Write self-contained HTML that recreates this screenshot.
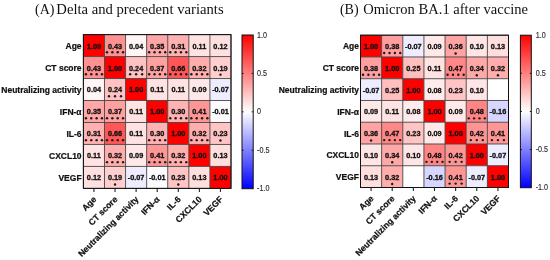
<!DOCTYPE html>
<html><head><meta charset="utf-8"><style>
html,body{margin:0;padding:0;background:#fff;width:550px;height:260px;overflow:hidden;}
svg{display:block;font-family:"Liberation Sans",sans-serif;filter:blur(0.35px);}
</style></head><body>
<svg width="550" height="260" viewBox="0 0 550 260">
<defs><linearGradient id="cb" x1="0" y1="0" x2="0" y2="1"><stop offset="0" stop-color="#ff0000"/><stop offset="0.5" stop-color="#ffffff"/><stop offset="1" stop-color="#0000ff"/></linearGradient></defs>
<rect width="550" height="260" fill="#fff"/>
<text x="35.10" y="13.5" font-family="Liberation Serif" font-size="14" fill="#111">(A)</text>
<text x="56.30" y="13.5" font-family="Liberation Serif" font-size="14.4" fill="#111" textLength="167.3" lengthAdjust="spacingAndGlyphs">Delta and precedent variants</text>
<rect x="83.40" y="34.60" width="21.09" height="21.97" fill="rgb(255,0,0)"/>
<rect x="104.49" y="34.60" width="21.09" height="21.97" fill="rgb(255,145,145)"/>
<rect x="125.57" y="34.60" width="21.09" height="21.97" fill="rgb(255,245,245)"/>
<rect x="146.66" y="34.60" width="21.09" height="21.97" fill="rgb(255,166,166)"/>
<rect x="167.74" y="34.60" width="21.09" height="21.97" fill="rgb(255,176,176)"/>
<rect x="188.83" y="34.60" width="21.09" height="21.97" fill="rgb(255,227,227)"/>
<rect x="209.91" y="34.60" width="21.09" height="21.97" fill="rgb(255,224,224)"/>
<rect x="83.40" y="56.57" width="21.09" height="21.97" fill="rgb(255,145,145)"/>
<rect x="104.49" y="56.57" width="21.09" height="21.97" fill="rgb(255,0,0)"/>
<rect x="125.57" y="56.57" width="21.09" height="21.97" fill="rgb(255,194,194)"/>
<rect x="146.66" y="56.57" width="21.09" height="21.97" fill="rgb(255,161,161)"/>
<rect x="167.74" y="56.57" width="21.09" height="21.97" fill="rgb(255,87,87)"/>
<rect x="188.83" y="56.57" width="21.09" height="21.97" fill="rgb(255,173,173)"/>
<rect x="209.91" y="56.57" width="21.09" height="21.97" fill="rgb(255,207,207)"/>
<rect x="83.40" y="78.54" width="21.09" height="21.97" fill="rgb(255,245,245)"/>
<rect x="104.49" y="78.54" width="21.09" height="21.97" fill="rgb(255,194,194)"/>
<rect x="125.57" y="78.54" width="21.09" height="21.97" fill="rgb(255,0,0)"/>
<rect x="146.66" y="78.54" width="21.09" height="21.97" fill="rgb(255,227,227)"/>
<rect x="167.74" y="78.54" width="21.09" height="21.97" fill="rgb(255,227,227)"/>
<rect x="188.83" y="78.54" width="21.09" height="21.97" fill="rgb(255,232,232)"/>
<rect x="209.91" y="78.54" width="21.09" height="21.97" fill="rgb(237,237,255)"/>
<rect x="83.40" y="100.51" width="21.09" height="21.97" fill="rgb(255,166,166)"/>
<rect x="104.49" y="100.51" width="21.09" height="21.97" fill="rgb(255,161,161)"/>
<rect x="125.57" y="100.51" width="21.09" height="21.97" fill="rgb(255,227,227)"/>
<rect x="146.66" y="100.51" width="21.09" height="21.97" fill="rgb(255,0,0)"/>
<rect x="167.74" y="100.51" width="21.09" height="21.97" fill="rgb(255,178,178)"/>
<rect x="188.83" y="100.51" width="21.09" height="21.97" fill="rgb(255,150,150)"/>
<rect x="209.91" y="100.51" width="21.09" height="21.97" fill="rgb(252,252,255)"/>
<rect x="83.40" y="122.49" width="21.09" height="21.97" fill="rgb(255,176,176)"/>
<rect x="104.49" y="122.49" width="21.09" height="21.97" fill="rgb(255,87,87)"/>
<rect x="125.57" y="122.49" width="21.09" height="21.97" fill="rgb(255,227,227)"/>
<rect x="146.66" y="122.49" width="21.09" height="21.97" fill="rgb(255,178,178)"/>
<rect x="167.74" y="122.49" width="21.09" height="21.97" fill="rgb(255,0,0)"/>
<rect x="188.83" y="122.49" width="21.09" height="21.97" fill="rgb(255,173,173)"/>
<rect x="209.91" y="122.49" width="21.09" height="21.97" fill="rgb(255,196,196)"/>
<rect x="83.40" y="144.46" width="21.09" height="21.97" fill="rgb(255,227,227)"/>
<rect x="104.49" y="144.46" width="21.09" height="21.97" fill="rgb(255,173,173)"/>
<rect x="125.57" y="144.46" width="21.09" height="21.97" fill="rgb(255,232,232)"/>
<rect x="146.66" y="144.46" width="21.09" height="21.97" fill="rgb(255,150,150)"/>
<rect x="167.74" y="144.46" width="21.09" height="21.97" fill="rgb(255,173,173)"/>
<rect x="188.83" y="144.46" width="21.09" height="21.97" fill="rgb(255,0,0)"/>
<rect x="209.91" y="144.46" width="21.09" height="21.97" fill="rgb(255,222,222)"/>
<rect x="83.40" y="166.43" width="21.09" height="21.97" fill="rgb(255,224,224)"/>
<rect x="104.49" y="166.43" width="21.09" height="21.97" fill="rgb(255,207,207)"/>
<rect x="125.57" y="166.43" width="21.09" height="21.97" fill="rgb(237,237,255)"/>
<rect x="146.66" y="166.43" width="21.09" height="21.97" fill="rgb(252,252,255)"/>
<rect x="167.74" y="166.43" width="21.09" height="21.97" fill="rgb(255,196,196)"/>
<rect x="188.83" y="166.43" width="21.09" height="21.97" fill="rgb(255,222,222)"/>
<rect x="209.91" y="166.43" width="21.09" height="21.97" fill="rgb(255,0,0)"/>
<line x1="83.40" y1="34.60" x2="83.40" y2="188.40" stroke="#444" stroke-width="0.9"/>
<line x1="104.49" y1="34.60" x2="104.49" y2="188.40" stroke="#444" stroke-width="0.9"/>
<line x1="125.57" y1="34.60" x2="125.57" y2="188.40" stroke="#444" stroke-width="0.9"/>
<line x1="146.66" y1="34.60" x2="146.66" y2="188.40" stroke="#444" stroke-width="0.9"/>
<line x1="167.74" y1="34.60" x2="167.74" y2="188.40" stroke="#444" stroke-width="0.9"/>
<line x1="188.83" y1="34.60" x2="188.83" y2="188.40" stroke="#444" stroke-width="0.9"/>
<line x1="209.91" y1="34.60" x2="209.91" y2="188.40" stroke="#444" stroke-width="0.9"/>
<line x1="231.00" y1="34.60" x2="231.00" y2="188.40" stroke="#444" stroke-width="0.9"/>
<line x1="83.40" y1="34.60" x2="231.00" y2="34.60" stroke="#444" stroke-width="0.9"/>
<line x1="83.40" y1="56.57" x2="231.00" y2="56.57" stroke="#444" stroke-width="0.9"/>
<line x1="83.40" y1="78.54" x2="231.00" y2="78.54" stroke="#444" stroke-width="0.9"/>
<line x1="83.40" y1="100.51" x2="231.00" y2="100.51" stroke="#444" stroke-width="0.9"/>
<line x1="83.40" y1="122.49" x2="231.00" y2="122.49" stroke="#444" stroke-width="0.9"/>
<line x1="83.40" y1="144.46" x2="231.00" y2="144.46" stroke="#444" stroke-width="0.9"/>
<line x1="83.40" y1="166.43" x2="231.00" y2="166.43" stroke="#444" stroke-width="0.9"/>
<line x1="83.40" y1="188.40" x2="231.00" y2="188.40" stroke="#444" stroke-width="0.9"/>
<rect x="83.40" y="34.60" width="147.60" height="153.80" fill="none" stroke="#111" stroke-width="1"/>
<text x="93.94" y="48.54" text-anchor="middle" font-family="Liberation Sans" font-weight="bold" font-size="7.30" fill="#111" stroke="#111" stroke-width="0.3">1.00</text>
<text x="115.03" y="48.54" text-anchor="middle" font-family="Liberation Sans" font-weight="bold" font-size="7.30" fill="#111" stroke="#111" stroke-width="0.3">0.43</text>
<circle cx="107.00" cy="52.27" r="1.20" fill="#1a1a1a"/>
<circle cx="112.35" cy="52.27" r="1.20" fill="#1a1a1a"/>
<circle cx="117.70" cy="52.27" r="1.20" fill="#1a1a1a"/>
<circle cx="123.05" cy="52.27" r="1.20" fill="#1a1a1a"/>
<text x="136.11" y="48.54" text-anchor="middle" font-family="Liberation Sans" font-weight="bold" font-size="7.30" fill="#111" stroke="#111" stroke-width="0.3">0.04</text>
<text x="157.20" y="48.54" text-anchor="middle" font-family="Liberation Sans" font-weight="bold" font-size="7.30" fill="#111" stroke="#111" stroke-width="0.3">0.35</text>
<circle cx="149.17" cy="52.27" r="1.20" fill="#1a1a1a"/>
<circle cx="154.52" cy="52.27" r="1.20" fill="#1a1a1a"/>
<circle cx="159.88" cy="52.27" r="1.20" fill="#1a1a1a"/>
<circle cx="165.22" cy="52.27" r="1.20" fill="#1a1a1a"/>
<text x="178.29" y="48.54" text-anchor="middle" font-family="Liberation Sans" font-weight="bold" font-size="7.30" fill="#111" stroke="#111" stroke-width="0.3">0.31</text>
<circle cx="170.26" cy="52.27" r="1.20" fill="#1a1a1a"/>
<circle cx="175.61" cy="52.27" r="1.20" fill="#1a1a1a"/>
<circle cx="180.96" cy="52.27" r="1.20" fill="#1a1a1a"/>
<circle cx="186.31" cy="52.27" r="1.20" fill="#1a1a1a"/>
<text x="199.37" y="48.54" text-anchor="middle" font-family="Liberation Sans" font-weight="bold" font-size="7.30" fill="#111" stroke="#111" stroke-width="0.3">0.11</text>
<text x="220.46" y="48.54" text-anchor="middle" font-family="Liberation Sans" font-weight="bold" font-size="7.30" fill="#111" stroke="#111" stroke-width="0.3">0.12</text>
<text x="93.94" y="70.51" text-anchor="middle" font-family="Liberation Sans" font-weight="bold" font-size="7.30" fill="#111" stroke="#111" stroke-width="0.3">0.43</text>
<circle cx="85.92" cy="74.24" r="1.20" fill="#1a1a1a"/>
<circle cx="91.27" cy="74.24" r="1.20" fill="#1a1a1a"/>
<circle cx="96.62" cy="74.24" r="1.20" fill="#1a1a1a"/>
<circle cx="101.97" cy="74.24" r="1.20" fill="#1a1a1a"/>
<text x="115.03" y="70.51" text-anchor="middle" font-family="Liberation Sans" font-weight="bold" font-size="7.30" fill="#111" stroke="#111" stroke-width="0.3">1.00</text>
<text x="136.11" y="70.51" text-anchor="middle" font-family="Liberation Sans" font-weight="bold" font-size="7.30" fill="#111" stroke="#111" stroke-width="0.3">0.24</text>
<circle cx="130.11" cy="74.24" r="1.20" fill="#1a1a1a"/>
<circle cx="136.11" cy="74.24" r="1.20" fill="#1a1a1a"/>
<circle cx="142.11" cy="74.24" r="1.20" fill="#1a1a1a"/>
<text x="157.20" y="70.51" text-anchor="middle" font-family="Liberation Sans" font-weight="bold" font-size="7.30" fill="#111" stroke="#111" stroke-width="0.3">0.37</text>
<circle cx="149.17" cy="74.24" r="1.20" fill="#1a1a1a"/>
<circle cx="154.52" cy="74.24" r="1.20" fill="#1a1a1a"/>
<circle cx="159.88" cy="74.24" r="1.20" fill="#1a1a1a"/>
<circle cx="165.22" cy="74.24" r="1.20" fill="#1a1a1a"/>
<text x="178.29" y="70.51" text-anchor="middle" font-family="Liberation Sans" font-weight="bold" font-size="7.30" fill="#111" stroke="#111" stroke-width="0.3">0.66</text>
<circle cx="170.26" cy="74.24" r="1.20" fill="#1a1a1a"/>
<circle cx="175.61" cy="74.24" r="1.20" fill="#1a1a1a"/>
<circle cx="180.96" cy="74.24" r="1.20" fill="#1a1a1a"/>
<circle cx="186.31" cy="74.24" r="1.20" fill="#1a1a1a"/>
<text x="199.37" y="70.51" text-anchor="middle" font-family="Liberation Sans" font-weight="bold" font-size="7.30" fill="#111" stroke="#111" stroke-width="0.3">0.32</text>
<circle cx="191.35" cy="74.24" r="1.20" fill="#1a1a1a"/>
<circle cx="196.70" cy="74.24" r="1.20" fill="#1a1a1a"/>
<circle cx="202.05" cy="74.24" r="1.20" fill="#1a1a1a"/>
<circle cx="207.40" cy="74.24" r="1.20" fill="#1a1a1a"/>
<text x="220.46" y="70.51" text-anchor="middle" font-family="Liberation Sans" font-weight="bold" font-size="7.30" fill="#111" stroke="#111" stroke-width="0.3">0.19</text>
<circle cx="220.46" cy="74.64" r="1.20" fill="#1a1a1a"/>
<text x="93.94" y="92.48" text-anchor="middle" font-family="Liberation Sans" font-weight="bold" font-size="7.30" fill="#111" stroke="#111" stroke-width="0.3">0.04</text>
<text x="115.03" y="92.48" text-anchor="middle" font-family="Liberation Sans" font-weight="bold" font-size="7.30" fill="#111" stroke="#111" stroke-width="0.3">0.24</text>
<circle cx="109.03" cy="96.21" r="1.20" fill="#1a1a1a"/>
<circle cx="115.03" cy="96.21" r="1.20" fill="#1a1a1a"/>
<circle cx="121.03" cy="96.21" r="1.20" fill="#1a1a1a"/>
<text x="136.11" y="92.48" text-anchor="middle" font-family="Liberation Sans" font-weight="bold" font-size="7.30" fill="#111" stroke="#111" stroke-width="0.3">1.00</text>
<text x="157.20" y="92.48" text-anchor="middle" font-family="Liberation Sans" font-weight="bold" font-size="7.30" fill="#111" stroke="#111" stroke-width="0.3">0.11</text>
<text x="178.29" y="92.48" text-anchor="middle" font-family="Liberation Sans" font-weight="bold" font-size="7.30" fill="#111" stroke="#111" stroke-width="0.3">0.11</text>
<text x="199.37" y="92.48" text-anchor="middle" font-family="Liberation Sans" font-weight="bold" font-size="7.30" fill="#111" stroke="#111" stroke-width="0.3">0.09</text>
<text x="220.46" y="92.48" text-anchor="middle" font-family="Liberation Sans" font-weight="bold" font-size="7.30" fill="#111" stroke="#111" stroke-width="0.3">-0.07</text>
<text x="93.94" y="114.45" text-anchor="middle" font-family="Liberation Sans" font-weight="bold" font-size="7.30" fill="#111" stroke="#111" stroke-width="0.3">0.35</text>
<circle cx="85.92" cy="118.19" r="1.20" fill="#1a1a1a"/>
<circle cx="91.27" cy="118.19" r="1.20" fill="#1a1a1a"/>
<circle cx="96.62" cy="118.19" r="1.20" fill="#1a1a1a"/>
<circle cx="101.97" cy="118.19" r="1.20" fill="#1a1a1a"/>
<text x="115.03" y="114.45" text-anchor="middle" font-family="Liberation Sans" font-weight="bold" font-size="7.30" fill="#111" stroke="#111" stroke-width="0.3">0.37</text>
<circle cx="107.00" cy="118.19" r="1.20" fill="#1a1a1a"/>
<circle cx="112.35" cy="118.19" r="1.20" fill="#1a1a1a"/>
<circle cx="117.70" cy="118.19" r="1.20" fill="#1a1a1a"/>
<circle cx="123.05" cy="118.19" r="1.20" fill="#1a1a1a"/>
<text x="136.11" y="114.45" text-anchor="middle" font-family="Liberation Sans" font-weight="bold" font-size="7.30" fill="#111" stroke="#111" stroke-width="0.3">0.11</text>
<text x="157.20" y="114.45" text-anchor="middle" font-family="Liberation Sans" font-weight="bold" font-size="7.30" fill="#111" stroke="#111" stroke-width="0.3">1.00</text>
<text x="178.29" y="114.45" text-anchor="middle" font-family="Liberation Sans" font-weight="bold" font-size="7.30" fill="#111" stroke="#111" stroke-width="0.3">0.30</text>
<circle cx="170.26" cy="118.19" r="1.20" fill="#1a1a1a"/>
<circle cx="175.61" cy="118.19" r="1.20" fill="#1a1a1a"/>
<circle cx="180.96" cy="118.19" r="1.20" fill="#1a1a1a"/>
<circle cx="186.31" cy="118.19" r="1.20" fill="#1a1a1a"/>
<text x="199.37" y="114.45" text-anchor="middle" font-family="Liberation Sans" font-weight="bold" font-size="7.30" fill="#111" stroke="#111" stroke-width="0.3">0.41</text>
<circle cx="191.35" cy="118.19" r="1.20" fill="#1a1a1a"/>
<circle cx="196.70" cy="118.19" r="1.20" fill="#1a1a1a"/>
<circle cx="202.05" cy="118.19" r="1.20" fill="#1a1a1a"/>
<circle cx="207.40" cy="118.19" r="1.20" fill="#1a1a1a"/>
<text x="220.46" y="114.45" text-anchor="middle" font-family="Liberation Sans" font-weight="bold" font-size="7.30" fill="#111" stroke="#111" stroke-width="0.3">-0.01</text>
<text x="93.94" y="136.42" text-anchor="middle" font-family="Liberation Sans" font-weight="bold" font-size="7.30" fill="#111" stroke="#111" stroke-width="0.3">0.31</text>
<circle cx="85.92" cy="140.16" r="1.20" fill="#1a1a1a"/>
<circle cx="91.27" cy="140.16" r="1.20" fill="#1a1a1a"/>
<circle cx="96.62" cy="140.16" r="1.20" fill="#1a1a1a"/>
<circle cx="101.97" cy="140.16" r="1.20" fill="#1a1a1a"/>
<text x="115.03" y="136.42" text-anchor="middle" font-family="Liberation Sans" font-weight="bold" font-size="7.30" fill="#111" stroke="#111" stroke-width="0.3">0.66</text>
<circle cx="107.00" cy="140.16" r="1.20" fill="#1a1a1a"/>
<circle cx="112.35" cy="140.16" r="1.20" fill="#1a1a1a"/>
<circle cx="117.70" cy="140.16" r="1.20" fill="#1a1a1a"/>
<circle cx="123.05" cy="140.16" r="1.20" fill="#1a1a1a"/>
<text x="136.11" y="136.42" text-anchor="middle" font-family="Liberation Sans" font-weight="bold" font-size="7.30" fill="#111" stroke="#111" stroke-width="0.3">0.11</text>
<text x="157.20" y="136.42" text-anchor="middle" font-family="Liberation Sans" font-weight="bold" font-size="7.30" fill="#111" stroke="#111" stroke-width="0.3">0.30</text>
<circle cx="149.17" cy="140.16" r="1.20" fill="#1a1a1a"/>
<circle cx="154.52" cy="140.16" r="1.20" fill="#1a1a1a"/>
<circle cx="159.88" cy="140.16" r="1.20" fill="#1a1a1a"/>
<circle cx="165.22" cy="140.16" r="1.20" fill="#1a1a1a"/>
<text x="178.29" y="136.42" text-anchor="middle" font-family="Liberation Sans" font-weight="bold" font-size="7.30" fill="#111" stroke="#111" stroke-width="0.3">1.00</text>
<text x="199.37" y="136.42" text-anchor="middle" font-family="Liberation Sans" font-weight="bold" font-size="7.30" fill="#111" stroke="#111" stroke-width="0.3">0.32</text>
<circle cx="191.35" cy="140.16" r="1.20" fill="#1a1a1a"/>
<circle cx="196.70" cy="140.16" r="1.20" fill="#1a1a1a"/>
<circle cx="202.05" cy="140.16" r="1.20" fill="#1a1a1a"/>
<circle cx="207.40" cy="140.16" r="1.20" fill="#1a1a1a"/>
<text x="220.46" y="136.42" text-anchor="middle" font-family="Liberation Sans" font-weight="bold" font-size="7.30" fill="#111" stroke="#111" stroke-width="0.3">0.23</text>
<circle cx="220.46" cy="140.56" r="1.20" fill="#1a1a1a"/>
<text x="93.94" y="158.39" text-anchor="middle" font-family="Liberation Sans" font-weight="bold" font-size="7.30" fill="#111" stroke="#111" stroke-width="0.3">0.11</text>
<text x="115.03" y="158.39" text-anchor="middle" font-family="Liberation Sans" font-weight="bold" font-size="7.30" fill="#111" stroke="#111" stroke-width="0.3">0.32</text>
<circle cx="107.00" cy="162.13" r="1.20" fill="#1a1a1a"/>
<circle cx="112.35" cy="162.13" r="1.20" fill="#1a1a1a"/>
<circle cx="117.70" cy="162.13" r="1.20" fill="#1a1a1a"/>
<circle cx="123.05" cy="162.13" r="1.20" fill="#1a1a1a"/>
<text x="136.11" y="158.39" text-anchor="middle" font-family="Liberation Sans" font-weight="bold" font-size="7.30" fill="#111" stroke="#111" stroke-width="0.3">0.09</text>
<text x="157.20" y="158.39" text-anchor="middle" font-family="Liberation Sans" font-weight="bold" font-size="7.30" fill="#111" stroke="#111" stroke-width="0.3">0.41</text>
<circle cx="149.17" cy="162.13" r="1.20" fill="#1a1a1a"/>
<circle cx="154.52" cy="162.13" r="1.20" fill="#1a1a1a"/>
<circle cx="159.88" cy="162.13" r="1.20" fill="#1a1a1a"/>
<circle cx="165.22" cy="162.13" r="1.20" fill="#1a1a1a"/>
<text x="178.29" y="158.39" text-anchor="middle" font-family="Liberation Sans" font-weight="bold" font-size="7.30" fill="#111" stroke="#111" stroke-width="0.3">0.32</text>
<circle cx="170.26" cy="162.13" r="1.20" fill="#1a1a1a"/>
<circle cx="175.61" cy="162.13" r="1.20" fill="#1a1a1a"/>
<circle cx="180.96" cy="162.13" r="1.20" fill="#1a1a1a"/>
<circle cx="186.31" cy="162.13" r="1.20" fill="#1a1a1a"/>
<text x="199.37" y="158.39" text-anchor="middle" font-family="Liberation Sans" font-weight="bold" font-size="7.30" fill="#111" stroke="#111" stroke-width="0.3">1.00</text>
<text x="220.46" y="158.39" text-anchor="middle" font-family="Liberation Sans" font-weight="bold" font-size="7.30" fill="#111" stroke="#111" stroke-width="0.3">0.13</text>
<text x="93.94" y="180.36" text-anchor="middle" font-family="Liberation Sans" font-weight="bold" font-size="7.30" fill="#111" stroke="#111" stroke-width="0.3">0.12</text>
<text x="115.03" y="180.36" text-anchor="middle" font-family="Liberation Sans" font-weight="bold" font-size="7.30" fill="#111" stroke="#111" stroke-width="0.3">0.19</text>
<circle cx="115.03" cy="184.50" r="1.20" fill="#1a1a1a"/>
<text x="136.11" y="180.36" text-anchor="middle" font-family="Liberation Sans" font-weight="bold" font-size="7.30" fill="#111" stroke="#111" stroke-width="0.3">-0.07</text>
<text x="157.20" y="180.36" text-anchor="middle" font-family="Liberation Sans" font-weight="bold" font-size="7.30" fill="#111" stroke="#111" stroke-width="0.3">-0.01</text>
<text x="178.29" y="180.36" text-anchor="middle" font-family="Liberation Sans" font-weight="bold" font-size="7.30" fill="#111" stroke="#111" stroke-width="0.3">0.23</text>
<circle cx="178.29" cy="184.50" r="1.20" fill="#1a1a1a"/>
<text x="199.37" y="180.36" text-anchor="middle" font-family="Liberation Sans" font-weight="bold" font-size="7.30" fill="#111" stroke="#111" stroke-width="0.3">0.13</text>
<text x="220.46" y="180.36" text-anchor="middle" font-family="Liberation Sans" font-weight="bold" font-size="7.30" fill="#111" stroke="#111" stroke-width="0.3">1.00</text>
<text x="81.60" y="48.99" text-anchor="end" font-family="Liberation Sans" font-weight="bold" font-size="8.50" fill="#111" stroke="#111" stroke-width="0.22">Age</text>
<text x="81.60" y="70.96" text-anchor="end" font-family="Liberation Sans" font-weight="bold" font-size="8.50" fill="#111" stroke="#111" stroke-width="0.22">CT score</text>
<text x="81.60" y="92.93" text-anchor="end" font-family="Liberation Sans" font-weight="bold" font-size="8.50" fill="#111" stroke="#111" stroke-width="0.22">Neutralizing activity</text>
<text x="81.60" y="114.90" text-anchor="end" font-family="Liberation Sans" font-weight="bold" font-size="8.50" fill="#111" stroke="#111" stroke-width="0.22">IFN-α</text>
<text x="81.60" y="136.87" text-anchor="end" font-family="Liberation Sans" font-weight="bold" font-size="8.50" fill="#111" stroke="#111" stroke-width="0.22">IL-6</text>
<text x="81.60" y="158.84" text-anchor="end" font-family="Liberation Sans" font-weight="bold" font-size="8.50" fill="#111" stroke="#111" stroke-width="0.22">CXCL10</text>
<text x="81.60" y="180.81" text-anchor="end" font-family="Liberation Sans" font-weight="bold" font-size="8.50" fill="#111" stroke="#111" stroke-width="0.22">VEGF</text>
<line x1="93.94" y1="188.40" x2="93.94" y2="191.90" stroke="#222" stroke-width="1.1"/>
<text transform="translate(96.94,199.90) rotate(-45)" text-anchor="end" font-family="Liberation Sans" font-weight="bold" font-size="8.60" fill="#111" stroke="#111" stroke-width="0.22">Age</text>
<line x1="115.03" y1="188.40" x2="115.03" y2="191.90" stroke="#222" stroke-width="1.1"/>
<text transform="translate(118.03,199.90) rotate(-45)" text-anchor="end" font-family="Liberation Sans" font-weight="bold" font-size="8.60" fill="#111" stroke="#111" stroke-width="0.22">CT score</text>
<line x1="136.11" y1="188.40" x2="136.11" y2="191.90" stroke="#222" stroke-width="1.1"/>
<text transform="translate(139.11,199.90) rotate(-45)" text-anchor="end" font-family="Liberation Sans" font-weight="bold" font-size="8.60" fill="#111" stroke="#111" stroke-width="0.22">Neutralizing activity</text>
<line x1="157.20" y1="188.40" x2="157.20" y2="191.90" stroke="#222" stroke-width="1.1"/>
<text transform="translate(160.20,199.90) rotate(-45)" text-anchor="end" font-family="Liberation Sans" font-weight="bold" font-size="8.60" fill="#111" stroke="#111" stroke-width="0.22">IFN-α</text>
<line x1="178.29" y1="188.40" x2="178.29" y2="191.90" stroke="#222" stroke-width="1.1"/>
<text transform="translate(181.29,199.90) rotate(-45)" text-anchor="end" font-family="Liberation Sans" font-weight="bold" font-size="8.60" fill="#111" stroke="#111" stroke-width="0.22">IL-6</text>
<line x1="199.37" y1="188.40" x2="199.37" y2="191.90" stroke="#222" stroke-width="1.1"/>
<text transform="translate(202.37,199.90) rotate(-45)" text-anchor="end" font-family="Liberation Sans" font-weight="bold" font-size="8.60" fill="#111" stroke="#111" stroke-width="0.22">CXCL10</text>
<line x1="220.46" y1="188.40" x2="220.46" y2="191.90" stroke="#222" stroke-width="1.1"/>
<text transform="translate(223.46,199.90) rotate(-45)" text-anchor="end" font-family="Liberation Sans" font-weight="bold" font-size="8.60" fill="#111" stroke="#111" stroke-width="0.22">VEGF</text>
<rect x="242.00" y="35.00" width="11.20" height="153.70" fill="url(#cb)" stroke="#111" stroke-width="1"/>
<text transform="translate(257.10,37.55) scale(1,1.150)" font-family="Liberation Sans" font-size="7.20" fill="#333" stroke="#333" stroke-width="0.15">1.0</text>
<line x1="242.00" y1="73.42" x2="243.50" y2="73.42" stroke="#111" stroke-width="1"/>
<line x1="251.70" y1="73.42" x2="253.20" y2="73.42" stroke="#111" stroke-width="1"/>
<text transform="translate(257.10,75.97) scale(1,1.150)" font-family="Liberation Sans" font-size="7.20" fill="#333" stroke="#333" stroke-width="0.15">0.5</text>
<line x1="242.00" y1="111.85" x2="243.50" y2="111.85" stroke="#111" stroke-width="1"/>
<line x1="251.70" y1="111.85" x2="253.20" y2="111.85" stroke="#111" stroke-width="1"/>
<text transform="translate(257.10,114.40) scale(1,1.150)" font-family="Liberation Sans" font-size="7.20" fill="#333" stroke="#333" stroke-width="0.15">0</text>
<line x1="242.00" y1="150.27" x2="243.50" y2="150.27" stroke="#111" stroke-width="1"/>
<line x1="251.70" y1="150.27" x2="253.20" y2="150.27" stroke="#111" stroke-width="1"/>
<text transform="translate(257.10,152.82) scale(1,1.150)" font-family="Liberation Sans" font-size="7.20" fill="#333" stroke="#333" stroke-width="0.15">-0.5</text>
<text transform="translate(257.10,191.25) scale(1,1.150)" font-family="Liberation Sans" font-size="7.20" fill="#333" stroke="#333" stroke-width="0.15">-1.0</text>
<text x="339.90" y="13.5" font-family="Liberation Serif" font-size="14" fill="#111">(B)</text>
<text x="363.20" y="13.5" font-family="Liberation Serif" font-size="14.4" fill="#111" textLength="164.8" lengthAdjust="spacingAndGlyphs">Omicron BA.1 after vaccine</text>
<rect x="360.50" y="35.20" width="21.14" height="21.76" fill="rgb(255,0,0)"/>
<rect x="381.64" y="35.20" width="21.14" height="21.76" fill="rgb(255,158,158)"/>
<rect x="402.79" y="35.20" width="21.14" height="21.76" fill="rgb(237,237,255)"/>
<rect x="423.93" y="35.20" width="21.14" height="21.76" fill="rgb(255,232,232)"/>
<rect x="445.07" y="35.20" width="21.14" height="21.76" fill="rgb(255,163,163)"/>
<rect x="466.21" y="35.20" width="21.14" height="21.76" fill="rgb(255,230,230)"/>
<rect x="487.36" y="35.20" width="21.14" height="21.76" fill="rgb(255,222,222)"/>
<rect x="360.50" y="56.96" width="21.14" height="21.76" fill="rgb(255,158,158)"/>
<rect x="381.64" y="56.96" width="21.14" height="21.76" fill="rgb(255,0,0)"/>
<rect x="402.79" y="56.96" width="21.14" height="21.76" fill="rgb(255,191,191)"/>
<rect x="423.93" y="56.96" width="21.14" height="21.76" fill="rgb(255,227,227)"/>
<rect x="445.07" y="56.96" width="21.14" height="21.76" fill="rgb(255,135,135)"/>
<rect x="466.21" y="56.96" width="21.14" height="21.76" fill="rgb(255,168,168)"/>
<rect x="487.36" y="56.96" width="21.14" height="21.76" fill="rgb(255,173,173)"/>
<rect x="360.50" y="78.71" width="21.14" height="21.76" fill="rgb(237,237,255)"/>
<rect x="381.64" y="78.71" width="21.14" height="21.76" fill="rgb(255,191,191)"/>
<rect x="402.79" y="78.71" width="21.14" height="21.76" fill="rgb(255,0,0)"/>
<rect x="423.93" y="78.71" width="21.14" height="21.76" fill="rgb(255,235,235)"/>
<rect x="445.07" y="78.71" width="21.14" height="21.76" fill="rgb(255,196,196)"/>
<rect x="466.21" y="78.71" width="21.14" height="21.76" fill="rgb(255,230,230)"/>
<rect x="487.36" y="78.71" width="21.14" height="21.76" fill="#ffffff"/>
<rect x="360.50" y="100.47" width="21.14" height="21.76" fill="rgb(255,232,232)"/>
<rect x="381.64" y="100.47" width="21.14" height="21.76" fill="rgb(255,227,227)"/>
<rect x="402.79" y="100.47" width="21.14" height="21.76" fill="rgb(255,235,235)"/>
<rect x="423.93" y="100.47" width="21.14" height="21.76" fill="rgb(255,0,0)"/>
<rect x="445.07" y="100.47" width="21.14" height="21.76" fill="rgb(255,232,232)"/>
<rect x="466.21" y="100.47" width="21.14" height="21.76" fill="rgb(255,133,133)"/>
<rect x="487.36" y="100.47" width="21.14" height="21.76" fill="rgb(214,214,255)"/>
<rect x="360.50" y="122.23" width="21.14" height="21.76" fill="rgb(255,163,163)"/>
<rect x="381.64" y="122.23" width="21.14" height="21.76" fill="rgb(255,135,135)"/>
<rect x="402.79" y="122.23" width="21.14" height="21.76" fill="rgb(255,196,196)"/>
<rect x="423.93" y="122.23" width="21.14" height="21.76" fill="rgb(255,232,232)"/>
<rect x="445.07" y="122.23" width="21.14" height="21.76" fill="rgb(255,0,0)"/>
<rect x="466.21" y="122.23" width="21.14" height="21.76" fill="rgb(255,148,148)"/>
<rect x="487.36" y="122.23" width="21.14" height="21.76" fill="rgb(255,150,150)"/>
<rect x="360.50" y="143.99" width="21.14" height="21.76" fill="rgb(255,230,230)"/>
<rect x="381.64" y="143.99" width="21.14" height="21.76" fill="rgb(255,168,168)"/>
<rect x="402.79" y="143.99" width="21.14" height="21.76" fill="rgb(255,230,230)"/>
<rect x="423.93" y="143.99" width="21.14" height="21.76" fill="rgb(255,133,133)"/>
<rect x="445.07" y="143.99" width="21.14" height="21.76" fill="rgb(255,148,148)"/>
<rect x="466.21" y="143.99" width="21.14" height="21.76" fill="rgb(255,0,0)"/>
<rect x="487.36" y="143.99" width="21.14" height="21.76" fill="rgb(237,237,255)"/>
<rect x="360.50" y="165.74" width="21.14" height="21.76" fill="rgb(255,222,222)"/>
<rect x="381.64" y="165.74" width="21.14" height="21.76" fill="rgb(255,173,173)"/>
<rect x="402.79" y="165.74" width="21.14" height="21.76" fill="#ffffff"/>
<rect x="423.93" y="165.74" width="21.14" height="21.76" fill="rgb(214,214,255)"/>
<rect x="445.07" y="165.74" width="21.14" height="21.76" fill="rgb(255,150,150)"/>
<rect x="466.21" y="165.74" width="21.14" height="21.76" fill="rgb(237,237,255)"/>
<rect x="487.36" y="165.74" width="21.14" height="21.76" fill="rgb(255,0,0)"/>
<line x1="360.50" y1="35.20" x2="360.50" y2="187.50" stroke="#444" stroke-width="0.9"/>
<line x1="381.64" y1="35.20" x2="381.64" y2="187.50" stroke="#444" stroke-width="0.9"/>
<line x1="402.79" y1="35.20" x2="402.79" y2="187.50" stroke="#444" stroke-width="0.9"/>
<line x1="423.93" y1="35.20" x2="423.93" y2="187.50" stroke="#444" stroke-width="0.9"/>
<line x1="445.07" y1="35.20" x2="445.07" y2="187.50" stroke="#444" stroke-width="0.9"/>
<line x1="466.21" y1="35.20" x2="466.21" y2="187.50" stroke="#444" stroke-width="0.9"/>
<line x1="487.36" y1="35.20" x2="487.36" y2="187.50" stroke="#444" stroke-width="0.9"/>
<line x1="508.50" y1="35.20" x2="508.50" y2="187.50" stroke="#444" stroke-width="0.9"/>
<line x1="360.50" y1="35.20" x2="508.50" y2="35.20" stroke="#444" stroke-width="0.9"/>
<line x1="360.50" y1="56.96" x2="508.50" y2="56.96" stroke="#444" stroke-width="0.9"/>
<line x1="360.50" y1="78.71" x2="508.50" y2="78.71" stroke="#444" stroke-width="0.9"/>
<line x1="360.50" y1="100.47" x2="508.50" y2="100.47" stroke="#444" stroke-width="0.9"/>
<line x1="360.50" y1="122.23" x2="508.50" y2="122.23" stroke="#444" stroke-width="0.9"/>
<line x1="360.50" y1="143.99" x2="508.50" y2="143.99" stroke="#444" stroke-width="0.9"/>
<line x1="360.50" y1="165.74" x2="508.50" y2="165.74" stroke="#444" stroke-width="0.9"/>
<line x1="360.50" y1="187.50" x2="508.50" y2="187.50" stroke="#444" stroke-width="0.9"/>
<rect x="360.50" y="35.20" width="148.00" height="152.30" fill="none" stroke="#111" stroke-width="1"/>
<text x="371.07" y="49.03" text-anchor="middle" font-family="Liberation Sans" font-weight="bold" font-size="7.30" fill="#111" stroke="#111" stroke-width="0.3">1.00</text>
<text x="392.21" y="49.03" text-anchor="middle" font-family="Liberation Sans" font-weight="bold" font-size="7.30" fill="#111" stroke="#111" stroke-width="0.3">0.38</text>
<circle cx="384.19" cy="53.06" r="1.20" fill="#1a1a1a"/>
<circle cx="389.54" cy="53.06" r="1.20" fill="#1a1a1a"/>
<circle cx="394.89" cy="53.06" r="1.20" fill="#1a1a1a"/>
<circle cx="400.24" cy="53.06" r="1.20" fill="#1a1a1a"/>
<text x="413.36" y="49.03" text-anchor="middle" font-family="Liberation Sans" font-weight="bold" font-size="7.30" fill="#111" stroke="#111" stroke-width="0.3">-0.07</text>
<text x="434.50" y="49.03" text-anchor="middle" font-family="Liberation Sans" font-weight="bold" font-size="7.30" fill="#111" stroke="#111" stroke-width="0.3">0.09</text>
<text x="455.64" y="49.03" text-anchor="middle" font-family="Liberation Sans" font-weight="bold" font-size="7.30" fill="#111" stroke="#111" stroke-width="0.3">0.36</text>
<circle cx="455.64" cy="53.46" r="1.20" fill="#1a1a1a"/>
<text x="476.79" y="49.03" text-anchor="middle" font-family="Liberation Sans" font-weight="bold" font-size="7.30" fill="#111" stroke="#111" stroke-width="0.3">0.10</text>
<text x="497.93" y="49.03" text-anchor="middle" font-family="Liberation Sans" font-weight="bold" font-size="7.30" fill="#111" stroke="#111" stroke-width="0.3">0.13</text>
<text x="371.07" y="70.79" text-anchor="middle" font-family="Liberation Sans" font-weight="bold" font-size="7.30" fill="#111" stroke="#111" stroke-width="0.3">0.38</text>
<circle cx="363.05" cy="74.81" r="1.20" fill="#1a1a1a"/>
<circle cx="368.40" cy="74.81" r="1.20" fill="#1a1a1a"/>
<circle cx="373.75" cy="74.81" r="1.20" fill="#1a1a1a"/>
<circle cx="379.10" cy="74.81" r="1.20" fill="#1a1a1a"/>
<text x="392.21" y="70.79" text-anchor="middle" font-family="Liberation Sans" font-weight="bold" font-size="7.30" fill="#111" stroke="#111" stroke-width="0.3">1.00</text>
<text x="413.36" y="70.79" text-anchor="middle" font-family="Liberation Sans" font-weight="bold" font-size="7.30" fill="#111" stroke="#111" stroke-width="0.3">0.25</text>
<text x="434.50" y="70.79" text-anchor="middle" font-family="Liberation Sans" font-weight="bold" font-size="7.30" fill="#111" stroke="#111" stroke-width="0.3">0.11</text>
<text x="455.64" y="70.79" text-anchor="middle" font-family="Liberation Sans" font-weight="bold" font-size="7.30" fill="#111" stroke="#111" stroke-width="0.3">0.47</text>
<circle cx="447.62" cy="74.81" r="1.20" fill="#1a1a1a"/>
<circle cx="452.97" cy="74.81" r="1.20" fill="#1a1a1a"/>
<circle cx="458.32" cy="74.81" r="1.20" fill="#1a1a1a"/>
<circle cx="463.67" cy="74.81" r="1.20" fill="#1a1a1a"/>
<text x="476.79" y="70.79" text-anchor="middle" font-family="Liberation Sans" font-weight="bold" font-size="7.30" fill="#111" stroke="#111" stroke-width="0.3">0.34</text>
<circle cx="476.79" cy="75.21" r="1.20" fill="#1a1a1a"/>
<text x="497.93" y="70.79" text-anchor="middle" font-family="Liberation Sans" font-weight="bold" font-size="7.30" fill="#111" stroke="#111" stroke-width="0.3">0.32</text>
<circle cx="497.93" cy="75.21" r="1.20" fill="#1a1a1a"/>
<text x="371.07" y="92.54" text-anchor="middle" font-family="Liberation Sans" font-weight="bold" font-size="7.30" fill="#111" stroke="#111" stroke-width="0.3">-0.07</text>
<text x="392.21" y="92.54" text-anchor="middle" font-family="Liberation Sans" font-weight="bold" font-size="7.30" fill="#111" stroke="#111" stroke-width="0.3">0.25</text>
<text x="413.36" y="92.54" text-anchor="middle" font-family="Liberation Sans" font-weight="bold" font-size="7.30" fill="#111" stroke="#111" stroke-width="0.3">1.00</text>
<text x="434.50" y="92.54" text-anchor="middle" font-family="Liberation Sans" font-weight="bold" font-size="7.30" fill="#111" stroke="#111" stroke-width="0.3">0.08</text>
<text x="455.64" y="92.54" text-anchor="middle" font-family="Liberation Sans" font-weight="bold" font-size="7.30" fill="#111" stroke="#111" stroke-width="0.3">0.23</text>
<text x="476.79" y="92.54" text-anchor="middle" font-family="Liberation Sans" font-weight="bold" font-size="7.30" fill="#111" stroke="#111" stroke-width="0.3">0.10</text>
<text x="371.07" y="114.30" text-anchor="middle" font-family="Liberation Sans" font-weight="bold" font-size="7.30" fill="#111" stroke="#111" stroke-width="0.3">0.09</text>
<text x="392.21" y="114.30" text-anchor="middle" font-family="Liberation Sans" font-weight="bold" font-size="7.30" fill="#111" stroke="#111" stroke-width="0.3">0.11</text>
<text x="413.36" y="114.30" text-anchor="middle" font-family="Liberation Sans" font-weight="bold" font-size="7.30" fill="#111" stroke="#111" stroke-width="0.3">0.08</text>
<text x="434.50" y="114.30" text-anchor="middle" font-family="Liberation Sans" font-weight="bold" font-size="7.30" fill="#111" stroke="#111" stroke-width="0.3">1.00</text>
<text x="455.64" y="114.30" text-anchor="middle" font-family="Liberation Sans" font-weight="bold" font-size="7.30" fill="#111" stroke="#111" stroke-width="0.3">0.09</text>
<text x="476.79" y="114.30" text-anchor="middle" font-family="Liberation Sans" font-weight="bold" font-size="7.30" fill="#111" stroke="#111" stroke-width="0.3">0.48</text>
<circle cx="468.76" cy="118.33" r="1.20" fill="#1a1a1a"/>
<circle cx="474.11" cy="118.33" r="1.20" fill="#1a1a1a"/>
<circle cx="479.46" cy="118.33" r="1.20" fill="#1a1a1a"/>
<circle cx="484.81" cy="118.33" r="1.20" fill="#1a1a1a"/>
<text x="497.93" y="114.30" text-anchor="middle" font-family="Liberation Sans" font-weight="bold" font-size="7.30" fill="#111" stroke="#111" stroke-width="0.3">-0.16</text>
<text x="371.07" y="136.06" text-anchor="middle" font-family="Liberation Sans" font-weight="bold" font-size="7.30" fill="#111" stroke="#111" stroke-width="0.3">0.36</text>
<circle cx="371.07" cy="140.49" r="1.20" fill="#1a1a1a"/>
<text x="392.21" y="136.06" text-anchor="middle" font-family="Liberation Sans" font-weight="bold" font-size="7.30" fill="#111" stroke="#111" stroke-width="0.3">0.47</text>
<circle cx="384.19" cy="140.09" r="1.20" fill="#1a1a1a"/>
<circle cx="389.54" cy="140.09" r="1.20" fill="#1a1a1a"/>
<circle cx="394.89" cy="140.09" r="1.20" fill="#1a1a1a"/>
<circle cx="400.24" cy="140.09" r="1.20" fill="#1a1a1a"/>
<text x="413.36" y="136.06" text-anchor="middle" font-family="Liberation Sans" font-weight="bold" font-size="7.30" fill="#111" stroke="#111" stroke-width="0.3">0.23</text>
<text x="434.50" y="136.06" text-anchor="middle" font-family="Liberation Sans" font-weight="bold" font-size="7.30" fill="#111" stroke="#111" stroke-width="0.3">0.09</text>
<text x="455.64" y="136.06" text-anchor="middle" font-family="Liberation Sans" font-weight="bold" font-size="7.30" fill="#111" stroke="#111" stroke-width="0.3">1.00</text>
<text x="476.79" y="136.06" text-anchor="middle" font-family="Liberation Sans" font-weight="bold" font-size="7.30" fill="#111" stroke="#111" stroke-width="0.3">0.42</text>
<circle cx="470.79" cy="140.09" r="1.20" fill="#1a1a1a"/>
<circle cx="476.79" cy="140.09" r="1.20" fill="#1a1a1a"/>
<circle cx="482.79" cy="140.09" r="1.20" fill="#1a1a1a"/>
<text x="497.93" y="136.06" text-anchor="middle" font-family="Liberation Sans" font-weight="bold" font-size="7.30" fill="#111" stroke="#111" stroke-width="0.3">0.41</text>
<circle cx="491.93" cy="140.09" r="1.20" fill="#1a1a1a"/>
<circle cx="497.93" cy="140.09" r="1.20" fill="#1a1a1a"/>
<circle cx="503.93" cy="140.09" r="1.20" fill="#1a1a1a"/>
<text x="371.07" y="157.81" text-anchor="middle" font-family="Liberation Sans" font-weight="bold" font-size="7.30" fill="#111" stroke="#111" stroke-width="0.3">0.10</text>
<text x="392.21" y="157.81" text-anchor="middle" font-family="Liberation Sans" font-weight="bold" font-size="7.30" fill="#111" stroke="#111" stroke-width="0.3">0.34</text>
<circle cx="392.21" cy="162.24" r="1.20" fill="#1a1a1a"/>
<text x="413.36" y="157.81" text-anchor="middle" font-family="Liberation Sans" font-weight="bold" font-size="7.30" fill="#111" stroke="#111" stroke-width="0.3">0.10</text>
<text x="434.50" y="157.81" text-anchor="middle" font-family="Liberation Sans" font-weight="bold" font-size="7.30" fill="#111" stroke="#111" stroke-width="0.3">0.48</text>
<circle cx="426.48" cy="161.84" r="1.20" fill="#1a1a1a"/>
<circle cx="431.82" cy="161.84" r="1.20" fill="#1a1a1a"/>
<circle cx="437.18" cy="161.84" r="1.20" fill="#1a1a1a"/>
<circle cx="442.52" cy="161.84" r="1.20" fill="#1a1a1a"/>
<text x="455.64" y="157.81" text-anchor="middle" font-family="Liberation Sans" font-weight="bold" font-size="7.30" fill="#111" stroke="#111" stroke-width="0.3">0.42</text>
<circle cx="449.64" cy="161.84" r="1.20" fill="#1a1a1a"/>
<circle cx="455.64" cy="161.84" r="1.20" fill="#1a1a1a"/>
<circle cx="461.64" cy="161.84" r="1.20" fill="#1a1a1a"/>
<text x="476.79" y="157.81" text-anchor="middle" font-family="Liberation Sans" font-weight="bold" font-size="7.30" fill="#111" stroke="#111" stroke-width="0.3">1.00</text>
<text x="497.93" y="157.81" text-anchor="middle" font-family="Liberation Sans" font-weight="bold" font-size="7.30" fill="#111" stroke="#111" stroke-width="0.3">-0.07</text>
<text x="371.07" y="179.57" text-anchor="middle" font-family="Liberation Sans" font-weight="bold" font-size="7.30" fill="#111" stroke="#111" stroke-width="0.3">0.13</text>
<text x="392.21" y="179.57" text-anchor="middle" font-family="Liberation Sans" font-weight="bold" font-size="7.30" fill="#111" stroke="#111" stroke-width="0.3">0.32</text>
<circle cx="392.21" cy="184.00" r="1.20" fill="#1a1a1a"/>
<text x="434.50" y="179.57" text-anchor="middle" font-family="Liberation Sans" font-weight="bold" font-size="7.30" fill="#111" stroke="#111" stroke-width="0.3">-0.16</text>
<text x="455.64" y="179.57" text-anchor="middle" font-family="Liberation Sans" font-weight="bold" font-size="7.30" fill="#111" stroke="#111" stroke-width="0.3">0.41</text>
<circle cx="449.64" cy="183.60" r="1.20" fill="#1a1a1a"/>
<circle cx="455.64" cy="183.60" r="1.20" fill="#1a1a1a"/>
<circle cx="461.64" cy="183.60" r="1.20" fill="#1a1a1a"/>
<text x="476.79" y="179.57" text-anchor="middle" font-family="Liberation Sans" font-weight="bold" font-size="7.30" fill="#111" stroke="#111" stroke-width="0.3">-0.07</text>
<text x="497.93" y="179.57" text-anchor="middle" font-family="Liberation Sans" font-weight="bold" font-size="7.30" fill="#111" stroke="#111" stroke-width="0.3">1.00</text>
<text x="359.00" y="49.48" text-anchor="end" font-family="Liberation Sans" font-weight="bold" font-size="8.50" fill="#111" stroke="#111" stroke-width="0.22">Age</text>
<text x="359.00" y="71.24" text-anchor="end" font-family="Liberation Sans" font-weight="bold" font-size="8.50" fill="#111" stroke="#111" stroke-width="0.22">CT score</text>
<text x="359.00" y="92.99" text-anchor="end" font-family="Liberation Sans" font-weight="bold" font-size="8.50" fill="#111" stroke="#111" stroke-width="0.22">Neutralizing activity</text>
<text x="359.00" y="114.75" text-anchor="end" font-family="Liberation Sans" font-weight="bold" font-size="8.50" fill="#111" stroke="#111" stroke-width="0.22">IFN-α</text>
<text x="359.00" y="136.51" text-anchor="end" font-family="Liberation Sans" font-weight="bold" font-size="8.50" fill="#111" stroke="#111" stroke-width="0.22">IL-6</text>
<text x="359.00" y="158.26" text-anchor="end" font-family="Liberation Sans" font-weight="bold" font-size="8.50" fill="#111" stroke="#111" stroke-width="0.22">CXCL10</text>
<text x="359.00" y="180.02" text-anchor="end" font-family="Liberation Sans" font-weight="bold" font-size="8.50" fill="#111" stroke="#111" stroke-width="0.22">VEGF</text>
<line x1="371.07" y1="187.50" x2="371.07" y2="191.00" stroke="#222" stroke-width="1.1"/>
<text transform="translate(374.07,199.00) rotate(-45)" text-anchor="end" font-family="Liberation Sans" font-weight="bold" font-size="8.60" fill="#111" stroke="#111" stroke-width="0.22">Age</text>
<line x1="392.21" y1="187.50" x2="392.21" y2="191.00" stroke="#222" stroke-width="1.1"/>
<text transform="translate(395.21,199.00) rotate(-45)" text-anchor="end" font-family="Liberation Sans" font-weight="bold" font-size="8.60" fill="#111" stroke="#111" stroke-width="0.22">CT score</text>
<line x1="413.36" y1="187.50" x2="413.36" y2="191.00" stroke="#222" stroke-width="1.1"/>
<text transform="translate(416.36,199.00) rotate(-45)" text-anchor="end" font-family="Liberation Sans" font-weight="bold" font-size="8.60" fill="#111" stroke="#111" stroke-width="0.22">Neutralizing activity</text>
<line x1="434.50" y1="187.50" x2="434.50" y2="191.00" stroke="#222" stroke-width="1.1"/>
<text transform="translate(437.50,199.00) rotate(-45)" text-anchor="end" font-family="Liberation Sans" font-weight="bold" font-size="8.60" fill="#111" stroke="#111" stroke-width="0.22">IFN-α</text>
<line x1="455.64" y1="187.50" x2="455.64" y2="191.00" stroke="#222" stroke-width="1.1"/>
<text transform="translate(458.64,199.00) rotate(-45)" text-anchor="end" font-family="Liberation Sans" font-weight="bold" font-size="8.60" fill="#111" stroke="#111" stroke-width="0.22">IL-6</text>
<line x1="476.79" y1="187.50" x2="476.79" y2="191.00" stroke="#222" stroke-width="1.1"/>
<text transform="translate(479.79,199.00) rotate(-45)" text-anchor="end" font-family="Liberation Sans" font-weight="bold" font-size="8.60" fill="#111" stroke="#111" stroke-width="0.22">CXCL10</text>
<line x1="497.93" y1="187.50" x2="497.93" y2="191.00" stroke="#222" stroke-width="1.1"/>
<text transform="translate(500.93,199.00) rotate(-45)" text-anchor="end" font-family="Liberation Sans" font-weight="bold" font-size="8.60" fill="#111" stroke="#111" stroke-width="0.22">VEGF</text>
<rect x="520.40" y="35.20" width="10.90" height="152.50" fill="url(#cb)" stroke="#111" stroke-width="1"/>
<text transform="translate(535.70,37.75) scale(1,1.150)" font-family="Liberation Sans" font-size="7.20" fill="#333" stroke="#333" stroke-width="0.15">1.0</text>
<line x1="520.40" y1="73.33" x2="521.90" y2="73.33" stroke="#111" stroke-width="1"/>
<line x1="529.80" y1="73.33" x2="531.30" y2="73.33" stroke="#111" stroke-width="1"/>
<text transform="translate(535.70,75.88) scale(1,1.150)" font-family="Liberation Sans" font-size="7.20" fill="#333" stroke="#333" stroke-width="0.15">0.5</text>
<line x1="520.40" y1="111.45" x2="521.90" y2="111.45" stroke="#111" stroke-width="1"/>
<line x1="529.80" y1="111.45" x2="531.30" y2="111.45" stroke="#111" stroke-width="1"/>
<text transform="translate(535.70,114.00) scale(1,1.150)" font-family="Liberation Sans" font-size="7.20" fill="#333" stroke="#333" stroke-width="0.15">0</text>
<line x1="520.40" y1="149.57" x2="521.90" y2="149.57" stroke="#111" stroke-width="1"/>
<line x1="529.80" y1="149.57" x2="531.30" y2="149.57" stroke="#111" stroke-width="1"/>
<text transform="translate(535.70,152.12) scale(1,1.150)" font-family="Liberation Sans" font-size="7.20" fill="#333" stroke="#333" stroke-width="0.15">-0.5</text>
<text transform="translate(535.70,190.25) scale(1,1.150)" font-family="Liberation Sans" font-size="7.20" fill="#333" stroke="#333" stroke-width="0.15">-1.0</text>
</svg>
</body></html>
